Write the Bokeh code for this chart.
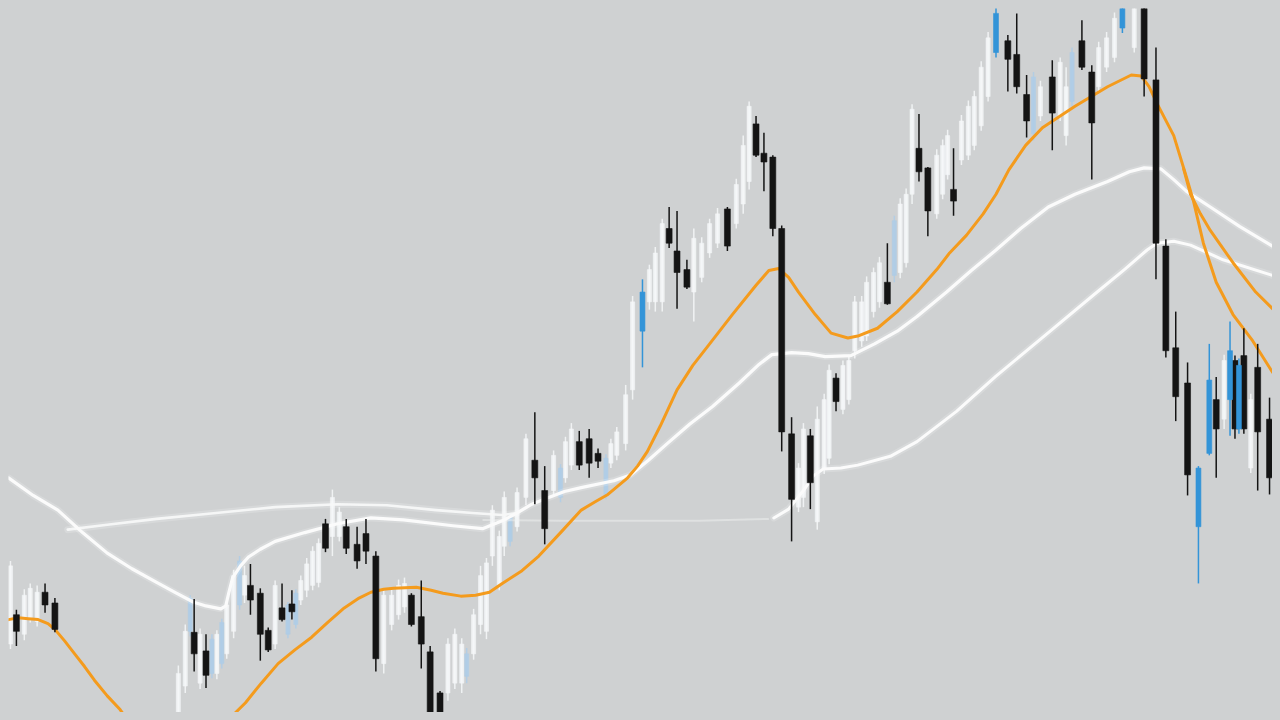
import numpy as np
from jinja2 import Template
from bokeh.plotting import figure
from bokeh.models import ColumnDataSource, Range1d
from bokeh.embed import file_html
from bokeh.resources import INLINE

# ---------------- data (price units) ----------------
candle_x = [2, 8, 16, 22, 29, 37, 47,
            172, 179, 184, 188, 194, 200, 206, 211, 216, 221,
            228, 234, 239, 245, 255, 263, 270, 277, 283, 287,
            291, 296, 302, 308, 314, 321, 328, 335, 342, 353,
            362, 372, 380, 388, 395, 401, 408, 418, 427, 437,
            445, 452, 459, 464, 471, 478, 484, 490, 497, 502,
            508, 515, 524, 533, 543, 552, 559, 564, 570, 578,
            588, 597, 605, 610, 616, 625, 632, 642, 649, 655,
            662, 669, 677, 687, 694, 702, 710, 718, 728, 737,
            744, 750, 757, 765, 774, 783, 793, 800, 805, 812,
            819, 826, 831, 838, 845, 851, 857, 864, 869, 876,
            882, 890, 897, 903, 909, 915, 922, 931, 940, 946,
            951, 957, 965, 972, 978, 985, 992, 1000, 1012, 1021,
            1031, 1038, 1045, 1057, 1065, 1071, 1077, 1087, 1097, 1104,
            1112, 1120, 1128, 1140, 1150, 1162, 1172, 1182, 1194, 1205,
            1216, 1223, 1231, 1237, 1242, 1246, 1251, 1258, 1265, 1277]

candle_kind = ["u", "d", "u", "u", "u", "d", "d",
               "u", "u", "l", "d", "u", "d", "l", "u", "l", "u",
               "u", "l", "u", "d", "d", "d", "u", "d", "l", "d",
               "l", "u", "u", "u", "u", "d", "u", "u", "d", "d",
               "d", "d", "u", "u", "u", "u", "d", "d", "d", "d",
               "u", "u", "u", "l", "u", "u", "u", "u", "u", "u",
               "l", "u", "u", "d", "d", "u", "l", "u", "u", "d",
               "d", "d", "l", "u", "u", "u", "u", "b", "u", "u",
               "u", "d", "d", "d", "u", "u", "u", "u", "d", "u",
               "u", "u", "d", "d", "d", "d", "d", "u", "u", "d",
               "u", "u", "u", "d", "u", "u", "u", "u", "u", "u",
               "u", "d", "l", "u", "u", "u", "d", "d", "u", "u",
               "u", "d", "u", "u", "u", "u", "u", "b", "d", "d",
               "d", "l", "u", "d", "u", "u", "l", "d", "d", "u",
               "u", "u", "b", "u", "d", "d", "d", "d", "d", "b",
               "b", "d", "u", "b", "d", "b", "d", "u", "d", "d"]

candle_open = [70, 100, 80, 97, 93, 123, 112,
               0, 27, 83, 82, 30, 63, 40, 40, 50, 60,
               83, 110, 120, 130, 122, 84, 70, 107, 80, 111,
               90, 115, 125, 130, 133, 193, 180, 180, 190, 172,
               183, 160, 50, 90, 100, 108, 120, 98, 62, 20,
               20, 30, 30, 37, 60, 90, 83, 160, 130, 170,
               175, 190, 220, 258, 227, 227, 220, 240, 253, 277,
               280, 265, 223, 255, 263, 275, 330, 390, 420, 420,
               420, 495, 472, 453, 430, 445, 470, 480, 515, 500,
               520, 543, 602, 572, 568, 495, 285, 210, 220, 283,
               195, 250, 260, 342, 310, 320, 370, 380, 385, 410,
               420, 440, 447, 450, 460, 530, 577, 557, 510, 530,
               550, 535, 565, 570, 580, 600, 630, 675, 687, 673,
               632, 592, 610, 650, 610, 590, 625, 687, 655, 640,
               660, 670, 700, 680, 725, 647, 477, 373, 337, 190,
               265, 320, 300, 320, 360, 290, 365, 250, 353, 300]

candle_high = [155, 105, 126, 132, 130, 132, 117,
               48, 90, 120, 116, 86, 80, 80, 84, 96, 116,
               146, 160, 150, 152, 127, 87, 135, 132, 113, 125,
               126, 140, 158, 170, 178, 198, 228, 210, 198, 190,
               198, 165, 125, 126, 136, 138, 122, 135, 68, 22,
               76, 86, 76, 66, 106, 150, 158, 212, 186, 226,
               204, 230, 285, 307, 252, 268, 254, 282, 296, 288,
               290, 270, 264, 280, 292, 335, 426, 443, 458, 476,
               505, 517, 513, 463, 495, 486, 505, 516, 517, 546,
               590, 625, 610, 593, 570, 498, 302, 255, 296, 290,
               313, 326, 356, 347, 360, 366, 426, 426, 446, 455,
               466, 480, 508, 526, 536, 622, 612, 558, 576, 586,
               596, 577, 611, 626, 636, 666, 696, 725, 693, 715,
               652, 655, 646, 667, 670, 660, 680, 708, 662, 686,
               696, 716, 730, 730, 730, 680, 484, 410, 358, 252,
               377, 343, 366, 400, 365, 362, 393, 326, 377, 322]

candle_low = [65, 68, 74, 92, 88, 102, 82,
              -10, 20, 78, 42, 24, 25, 35, 34, 45, 55,
              76, 105, 112, 100, 53, 62, 65, 93, 76, 95,
              86, 110, 118, 125, 128, 164, 160, 175, 162, 147,
              152, 42, 40, 84, 95, 102, 88, 45, -10, -10,
              12, 24, 20, 30, 54, 80, 75, 150, 125, 160,
              170, 185, 212, 213, 172, 222, 215, 235, 248, 248,
              240, 250, 218, 250, 258, 268, 320, 353, 412, 410,
              410, 475, 413, 433, 400, 440, 465, 475, 472, 495,
              510, 535, 568, 533, 487, 267, 175, 205, 210, 208,
              187, 244, 254, 308, 305, 315, 362, 374, 380, 404,
              414, 417, 440, 444, 455, 520, 543, 487, 505, 525,
              545, 508, 560, 565, 575, 595, 625, 670, 635, 633,
              588, 585, 605, 575, 605, 580, 620, 657, 545, 635,
              655, 665, 695, 675, 630, 443, 363, 298, 222, 132,
              263, 240, 290, 283, 280, 285, 285, 245, 227, 223]

candle_close = [150, 83, 120, 127, 123, 110, 85,
                40, 83, 117, 60, 80, 38, 75, 80, 92, 110,
                140, 155, 140, 115, 80, 64, 130, 95, 110, 103,
                122, 135, 152, 165, 173, 168, 220, 205, 168, 155,
                165, 55, 120, 120, 130, 132, 90, 70, -5, -5,
                70, 80, 70, 60, 100, 140, 153, 207, 180, 220,
                200, 225, 280, 240, 188, 263, 250, 277, 290, 253,
                255, 257, 260, 275, 287, 325, 420, 430, 453, 470,
                500, 480, 450, 435, 485, 480, 500, 510, 477, 540,
                580, 620, 570, 563, 495, 287, 218, 250, 290, 235,
                300, 320, 350, 318, 355, 360, 420, 420, 440, 450,
                460, 418, 503, 520, 530, 617, 553, 513, 570, 580,
                590, 523, 605, 620, 630, 660, 690, 715, 668, 640,
                605, 650, 640, 613, 665, 640, 675, 660, 603, 680,
                690, 710, 725, 725, 648, 480, 370, 323, 243, 250,
                340, 290, 360, 370, 290, 355, 290, 320, 287, 240]

# moving averages (NaN = gap where the line leaves the picture)
orange_x = [0, 10, 20, 30, 40, 47, 57, 67, 77, 87, 100, 113, 122, np.nan,
            222, 230, 240, 256, 273, 290, 307, 323, 340, 355, 367, 380, 390,
            413, 428, 440, 458, 473, 487, 500, 520, 537, 560, 580, 595, 607,
            627, 637, 647, 660, 677, 693, 710, 733, 757, 770, 780, 790, 800,
            817, 833, 850, 860, 880, 900, 920, 940, 953, 970, 987, 1000, 1013,
            1030, 1047, 1080, 1113, 1137, 1147, 1155, 1163, 1180, 1193, 1200,
            1210, 1223, 1240, 1260, 1280]
orange_y = [95, 97, 96, 95, 91, 85, 73, 60, 47, 33, 17, 3, -10, np.nan,
            -10, 0, 10, 30, 50, 64, 77, 92, 107, 117, 123, 126, 127,
            128, 125, 122, 119, 120, 123, 132, 145, 160, 185, 207, 216, 223,
            240, 252, 267, 293, 330, 355, 377, 407, 437, 452, 454, 445, 430,
            407, 388, 383, 385, 393, 410, 430, 453, 470, 488, 510, 530, 555,
            580, 598, 620, 640, 652, 651, 640, 623, 590, 547, 523,
            480, 440, 407, 380, 348]

orange2_x = [1190, 1197, 1207, 1217, 1240, 1263, 1280]
orange2_y = [556, 530, 510, 493, 460, 430, 413]

white1_x = [0, 25, 50, 75, 100, 125, 150, 170, 187, 200, 215, 220, 223, 227,
            235, 243, 255, 270, 300, 333, 367, 400, 450, 480, 500, 513, 530,
            547, 563, 580, 613, 630, 648, 667, 690, 713, 740, 760, 773,
            793, 810, 827, 853, 877, 900, 920, 950, 975, 1000, 1025, 1053,
            1080, 1113, 1135, 1150, 1167, 1180, 1193, 1217, 1247, 1280]
white1_y = [240, 222, 207, 184, 163, 147, 133, 122, 113, 109, 106, 109, 122, 138,
            150, 159, 167, 175, 184, 193, 199, 197, 191, 188, 196, 203, 213,
            220, 226, 230, 237, 243, 258, 275, 295, 313, 337, 356, 366,
            368, 367, 364, 365, 377, 390, 405, 430, 452, 473, 495, 517,
            530, 543, 553, 557, 556, 545, 533, 517, 497, 477]

white2_x = [60, 100, 150, 200, 270, 333, 383, 433, 470, 500, 515]
white2_y = [187, 192, 198, 203, 210, 213, 212, 207, 204, 202, 204]

white3a_x = [480, 560, 650, 700, 770]
white3a_y = [197, 196, 196, 196, 198]

white3_x = [775, 790, 805, 815, 825, 843, 860, 893, 920, 960, 1000, 1050,
            1100, 1130, 1153, 1163, 1180, 1197, 1230, 1280]
white3_y = [199, 208, 227, 242, 249, 250, 253, 262, 277, 308, 344, 386,
            428, 453, 473, 480, 482, 478, 463, 447]

# ---------------- styling ----------------
BG = "#cfd1d2"
kind_style = {
    "u": dict(color="#f6f8f9", width=4.2, alpha=0.85),
    "l": dict(color="#aecde7", width=4.2, alpha=0.85),
    "d": dict(color="#141414", width=6.0, alpha=1.0),
    "b": dict(color="#3394d8", width=5.0, alpha=1.0),
}

p = figure(width=1264, height=704, output_backend="svg", toolbar_location=None,
           x_range=Range1d(0, 1280), y_range=Range1d(0, 720),
           min_border=0, min_border_left=0, min_border_right=0,
           min_border_top=0, min_border_bottom=0)
p.axis.visible = False
p.xgrid.visible = False
p.ygrid.visible = False
p.outline_line_color = None
p.background_fill_color = BG
p.border_fill_color = BG


def candles(kind):
    idx = [i for i, k in enumerate(candle_kind) if k == kind]
    src = ColumnDataSource(dict(
        x=[candle_x[i] for i in idx],
        high=[candle_high[i] for i in idx],
        low=[candle_low[i] for i in idx],
        top=[max(candle_open[i], candle_close[i]) for i in idx],
        bottom=[min(candle_open[i], candle_close[i]) for i in idx],
    ))
    st = kind_style[kind]
    p.segment("x", "high", "x", "low", source=src, line_color=st["color"],
              line_width=1.5, line_alpha=st["alpha"])
    p.vbar(x="x", width=st["width"], top="top", bottom="bottom", source=src,
           fill_color=st["color"], line_color=st["color"], line_width=0.6,
           fill_alpha=st["alpha"], line_alpha=st["alpha"])


# light candles behind the averages
candles("u")
candles("l")

# averages (soft glow under the white lines)
p.line(white3a_x, white3a_y, line_color="#f2f3f3", line_width=2, line_alpha=0.45)
for xs, ys in ((white1_x, white1_y), (white3_x, white3_y), (white2_x, white2_y)):
    p.line(xs, ys, line_color="#ffffff", line_width=7, line_alpha=0.18,
           line_cap="round", line_join="round")
p.line(white2_x, white2_y, line_color="#f7f8f8", line_width=2.6, line_alpha=0.95,
       line_cap="round", line_join="round")
p.line(white1_x, white1_y, line_color="#fbfbfb", line_width=3.2,
       line_cap="round", line_join="round")
p.line(white3_x, white3_y, line_color="#fbfbfb", line_width=3.0,
       line_cap="round", line_join="round")
p.line(orange_x, orange_y, line_color="#f49b1d", line_width=3.0,
       line_cap="round", line_join="round")
p.line(orange2_x, orange2_y, line_color="#f49b1d", line_width=3.0,
       line_cap="round", line_join="round")

# dark and blue candles in front
candles("d")
candles("b")

page = Template("""<!DOCTYPE html>
<html lang="en">
<head>
<meta charset="utf-8">
<title>{{ title }}</title>
<style>html, body { background: #cfd1d2; }</style>
{{ bokeh_css if bokeh_css }}
{{ bokeh_js if bokeh_js }}
</head>
<body>
{{ plot_div }}
{{ plot_script }}
</body>
</html>
""")

open("out.html", "w").write(file_html(p, INLINE, title="chart", template=page))
